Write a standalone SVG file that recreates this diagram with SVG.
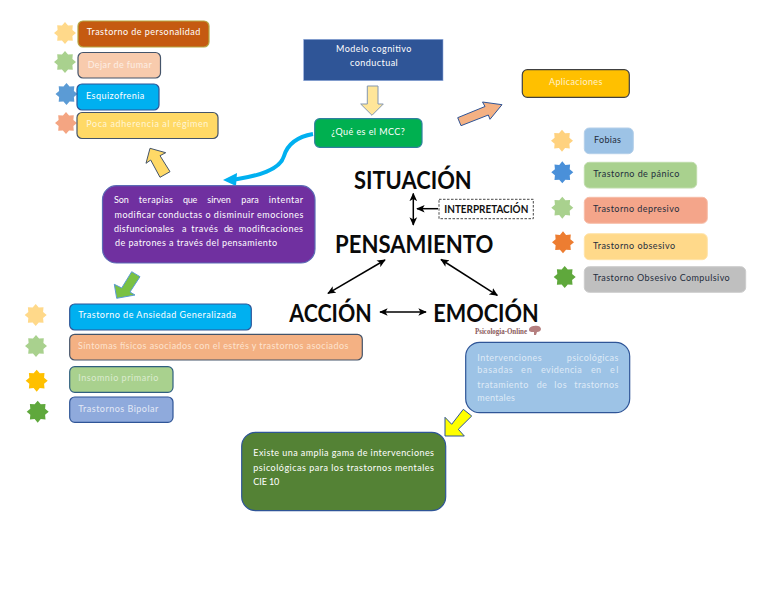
<svg xmlns="http://www.w3.org/2000/svg" width="768" height="594" viewBox="0 0 768 594">
<style>
text{font-family:Lato,"Open Sans","Liberation Sans",sans-serif;font-size:9px;font-weight:400}
.w{fill:#fff}
.d{fill:#1f2d3d}
.l{fill:#dfeaf6}
.big{font-size:24px;font-weight:700;fill:#0a0a0a}
.b{stroke-width:1.2}
.arrow{stroke-width:1}
.thin{fill:none;stroke:#000;stroke-width:1.5}
</style>
<defs>
<polygon id="star" points="0,-11 3.06,-7.39 7.8,-7.8 7.39,-3.06 11,0 7.39,3.06 7.8,7.8 3.06,7.39 0,11 -3.06,7.39 -7.8,7.8 -7.39,3.06 -11,0 -7.39,-3.06 -7.8,-7.8 -3.06,-7.39"/>
<marker id="ah" viewBox="0 0 10 10" refX="9" refY="5" markerWidth="8.5" markerHeight="8.5" markerUnits="userSpaceOnUse" orient="auto-start-reverse"><path d="M0,0.5 L10,5 L0,9.5 L2.5,5 Z" fill="#000"/></marker>
</defs>
<rect width="768" height="594" fill="#fff"/>

<g id="connectors">
<path d="M313,134 C296,137 287,146 284,156 C280,170 258,176 235,179.5" fill="none" stroke="#00b0f0" stroke-width="4"/>
<polygon points="223,180 237,173 236,186" fill="#00b0f0"/>
<polygon class="arrow" points="367.3,86 378,86 378,104 383.3,104 372,115.3 360.7,104 367.3,104" fill="#ffe699" stroke="#8497b0"/>
<polygon class="arrow" points="150,148.3 165.7,152.7 160,155.7 170,171.7 160,177.3 150.7,160 146,163.3" fill="#ffd966" stroke="#44546a"/>
<polygon class="arrow" points="116.7,298.3 114.3,284.3 121.7,288 131.7,271.7 140,276.7 130,292 135,295" fill="#7ac143" stroke="#5b9bd5"/>
<polygon class="arrow" points="457.7,117.7 485,106.5 482.5,102 502,104.7 490,119.3 488.3,115 461,125.7" fill="#f4b183" stroke="#2f5597"/>
<polygon class="arrow" points="445,417.3 451.7,424.3 463.3,409.3 471.7,416 458.3,429.3 464.3,436 445,436" fill="#ffff00" stroke="#2f5597"/>
<path class="thin" d="M413.3,193.5V225" marker-start="url(#ah)" marker-end="url(#ah)"/>
<path class="thin" d="M438,208.7H417" marker-end="url(#ah)"/>
<path class="thin" d="M385,260L328,293.3" marker-start="url(#ah)" marker-end="url(#ah)"/>
<path class="thin" d="M441,259.5L497.3,295.3" marker-start="url(#ah)" marker-end="url(#ah)"/>
<path class="thin" d="M380,312H426" marker-start="url(#ah)" marker-end="url(#ah)"/>
</g>

<g id="n-personalidad"><use href="#star" x="65" y="33" fill="#ffd98a"/><rect class="b" x="78" y="21" width="131" height="26" rx="5" fill="#c55a11" stroke="#b5a642"/><text class="w" x="86.7" y="35" textLength="113.6">Trastorno de personalidad</text></g>
<g id="n-fumar"><use href="#star" x="65" y="62" fill="#a9d18e"/><rect class="b" x="78" y="52.5" width="82.5" height="25.5" rx="5" fill="#f8cbad" stroke="#44546a"/><text fill="#fdeee4" x="87.7" y="67.7" textLength="64">Dejar de fumar</text></g>
<g id="n-esquizofrenia"><use href="#star" x="66.5" y="94" fill="#5b9bd5"/><rect class="b" x="77" y="84" width="82" height="26" rx="5" fill="#00b0f0" stroke="#2f5597"/><text class="w" x="86" y="99" textLength="58.3">Esquizofrenia</text></g>
<g id="n-adherencia"><use href="#star" x="66" y="123" fill="#f4a582"/><rect class="b" x="77" y="112.5" width="141" height="26" rx="5" fill="#ffd966" stroke="#44546a"/><text fill="#fff6d6" x="86.3" y="127.3" textLength="122">Poca adherencia al régimen</text></g>

<g id="n-modelo"><rect x="303.7" y="39.3" width="139.3" height="41.4" fill="#2f5597" stroke="#8faadc" stroke-width=".6"/><text class="w" x="336" y="52.3" textLength="75.3">Modelo cognitivo</text><text class="w" x="350" y="66.3" textLength="47.7">conductual</text></g>
<g id="n-mcc"><rect class="b" x="314.7" y="118.7" width="107.3" height="28.6" rx="5" fill="#00b050" stroke="#2f7f9f"/><text class="w" x="331.3" y="134.7" textLength="73.4">¿Qué es el MCC?</text></g>
<g id="n-aplicaciones"><rect class="b" x="522.3" y="69.7" width="107" height="27.6" rx="5" fill="#ffc000" stroke="#404040"/><text fill="#fff2cc" x="549" y="84.7" textLength="53.3">Aplicaciones</text></g>

<g id="n-terapias"><rect class="b" x="102.5" y="185.7" width="212.5" height="77.3" rx="14" fill="#7030a0" stroke="#5b6bb5"/>
<text class="w" y="203" x="114" textLength="14.7">Son</text><text class="w" y="203" x="138.7" textLength="34.3">terapias</text><text class="w" y="203" x="183" textLength="14.3">que</text><text class="w" y="203" x="207.3" textLength="23.4">sirven</text><text class="w" y="203" x="241.3" textLength="17.4">para</text><text class="w" y="203" x="268.7" textLength="34.3">intentar</text>
<text class="w" x="114.5" y="218" textLength="189">modificar conductas o disminuir emociones</text>
<text class="w" y="231.5" x="114" textLength="60">disfuncionales</text><text class="w" y="231.5" x="182">a</text><text class="w" y="231.5" x="191.3" textLength="26.7">través</text><text class="w" y="231.5" x="224" textLength="9">de</text><text class="w" y="231.5" x="238.7" textLength="64.3">modificaciones</text>
<text class="w" x="115" y="246" textLength="162">de patrones a través del pensamiento</text></g>

<g id="n-situacion"><text class="big" x="354" y="189" textLength="117.7" lengthAdjust="spacingAndGlyphs">SITUACIÓN</text></g>
<g id="n-interpretacion"><rect x="439" y="199.3" width="94.3" height="19.4" fill="#fff" stroke="#333" stroke-dasharray="2.5 1.5" stroke-width=".9"/><text x="444.3" y="212.7" textLength="84" lengthAdjust="spacingAndGlyphs" style="font-size:11.5px;font-weight:700;fill:#111">INTERPRETACIÓN</text></g>
<g id="n-pensamiento"><text class="big" x="335" y="252.5" textLength="158.3" lengthAdjust="spacingAndGlyphs">PENSAMIENTO</text></g>
<g id="n-accion"><text class="big" x="289.3" y="321.7" textLength="82.4" lengthAdjust="spacingAndGlyphs">ACCIÓN</text></g>
<g id="n-emocion"><text class="big" x="433.3" y="321.7" textLength="105.4" lengthAdjust="spacingAndGlyphs">EMOCIÓN</text></g>
<g id="n-logo"><text x="475" y="333.7" textLength="52" lengthAdjust="spacingAndGlyphs" style="font-family:'Liberation Serif',serif;font-size:8px;font-weight:700;fill:#8a5a5a">Psicologia-Online</text><path d="M529,330c0-3 3-4 5-4 3-1 7 0 7,3 0,2-2,3-4,3l-1,3h-2v-3c-2,0-5,0-5-2z" fill="#b57f7f"/></g>

<g id="n-fobias"><use href="#star" x="562" y="140.7" fill="#ffd27f"/><rect x="584.3" y="128" width="49" height="25.7" rx="5" fill="#9dc3e6" stroke="#b4cfe9"/><text class="d" x="594" y="143" textLength="27">Fobias</text></g>
<g id="n-panico"><use href="#star" x="562.3" y="172.3" fill="#4a90d9"/><rect x="584.3" y="162.3" width="112.4" height="25.7" rx="5" fill="#a9d18e" stroke="#bfdcab"/><text class="d" x="593.3" y="176.7" textLength="86">Trastorno de pánico</text></g>
<g id="n-depresivo"><use href="#star" x="562.3" y="207.7" fill="#a9d18e"/><rect x="584.3" y="197.3" width="123" height="26" rx="5" fill="#f4a58a" stroke="#f7bda8"/><text class="d" x="593" y="212.3" textLength="86.3">Trastorno depresivo</text></g>
<g id="n-obsesivo"><use href="#star" x="563" y="242.3" fill="#ed7d31"/><rect x="584.3" y="233.7" width="123" height="26" rx="5" fill="#ffd98a" stroke="#ffe3a8"/><text class="d" x="593" y="248.7" textLength="82">Trastorno obsesivo</text></g>
<g id="n-toc"><use href="#star" x="564.7" y="277" fill="#5fa83c"/><rect x="584.3" y="266.7" width="161.4" height="25.6" rx="5" fill="#bfbfbf" stroke="#cccccc"/><text class="d" x="593" y="281" textLength="136.7">Trastorno Obsesivo Compulsivo</text></g>

<g id="n-ansiedad"><use href="#star" x="35.7" y="315" fill="#ffd98a"/><rect class="b" x="69.7" y="304" width="181.6" height="26" rx="5" fill="#00b0f0" stroke="#2f5597"/><text class="w" x="78.3" y="318.3" textLength="157.7">Trastorno de Ansiedad Generalizada</text></g>
<g id="n-sintomas"><use href="#star" x="36" y="346" fill="#a9d18e"/><rect class="b" x="69.7" y="334.3" width="292.6" height="25.7" rx="5" fill="#f4b183" stroke="#44546a"/><text fill="#fde3cf" x="78" y="349" textLength="270.3">Síntomas físicos asociados con el estrés y trastornos asociados</text></g>
<g id="n-insomnio"><use href="#star" x="36.7" y="380.7" fill="#ffc000"/><rect class="b" x="69.7" y="366.7" width="103.3" height="25.6" rx="5" fill="#a9d18e" stroke="#2f5f7f"/><text fill="#dcebd0" x="78.3" y="381.3" textLength="80">Insomnio primario</text></g>
<g id="n-bipolar"><use href="#star" x="37.7" y="411.7" fill="#5fa83c"/><rect class="b" x="69.7" y="397" width="103.3" height="25.3" rx="5" fill="#8faadc" stroke="#2f5597"/><text fill="#e3e9f6" x="78.3" y="411.7" textLength="80">Trastornos Bipolar</text></g>

<g id="n-intervenciones"><rect class="b" x="465.7" y="342.3" width="164" height="70.4" rx="14" fill="#9dc3e6" stroke="#2f5597"/>
<text class="l" y="360.7" x="477.3" textLength="64.4">Intervenciones</text><text class="l" y="360.7" x="566.7" textLength="51.6">psicológicas</text>
<text class="l" y="373.3" x="477.3" textLength="35.4">basadas</text><text class="l" y="373.3" x="521" textLength="10.7">en</text><text class="l" y="373.3" x="541" textLength="40.7">evidencia</text><text class="l" y="373.3" x="591" textLength="10">en</text><text class="l" y="373.3" x="610" textLength="8.3">el</text>
<text class="l" y="388" x="477.3" textLength="51">tratamiento</text><text class="l" y="388" x="536.7" textLength="10">de</text><text class="l" y="388" x="554.3" textLength="12.4">los</text><text class="l" y="388" x="574.3" textLength="44">trastornos</text>
<text class="l" x="477.3" y="401.3" textLength="37.7">mentales</text></g>

<g id="n-gama"><rect class="b" x="241.7" y="432.3" width="204" height="78.4" rx="14" fill="#548235" stroke="#2f5597"/>
<text class="w" x="253.3" y="456.3" textLength="180.7">Existe una amplia gama de intervenciones</text>
<text class="w" x="253.3" y="471" textLength="180.7">psicológicas para los trastornos mentales</text>
<text class="w" x="253.3" y="484.7" textLength="26">CIE 10</text></g>
</svg>
